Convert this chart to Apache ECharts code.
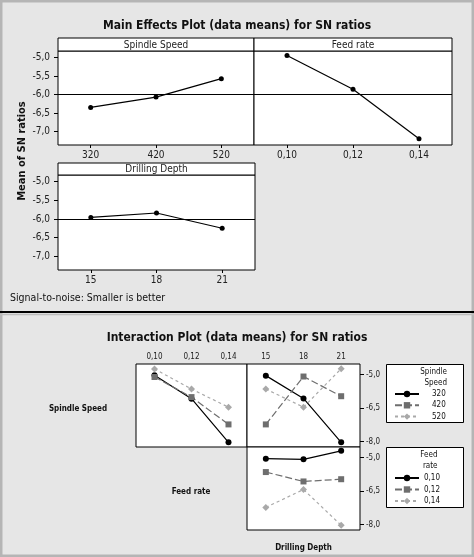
<!DOCTYPE html>
<html lang="en">
<head>
    <meta charset="UTF-8">
    <title>SN ratios</title>
    <script src="https://cdn.jsdelivr.net/npm/echarts@6/dist/echarts.min.js"></script>
    <style>
        html, body { margin: 0; padding: 0; background: #e6e6e6; }
        #container { width: 474px; height: 557px; }
    </style>
</head>
<body>
<div id="container"></div>
<script>
// levels (category labels)
var spindleLevels = ['320', '420', '520'];
var feedLevels = ['0,10', '0,12', '0,14'];
var depthLevels = ['15', '18', '21'];

// main effects means
var meanSpindle = [-6.35, -6.07, -5.57];
var meanFeed = [-4.94, -5.86, -7.20];
var meanDepth = [-5.96, -5.84, -6.25];

// interaction means: spindle speed x feed rate
var sf320 = [-5.03, -6.08, -8.03];
var sf420 = [-5.11, -6.01, -7.23];
var sf520 = [-4.75, -5.65, -6.46];
// spindle speed x drilling depth
var sd320 = [-5.05, -6.07, -8.03];
var sd420 = [-7.23, -5.09, -5.97];
var sd520 = [-5.65, -6.46, -4.74];
// feed rate x drilling depth
var fd010 = [-5.05, -5.08, -4.70];
var fd012 = [-5.65, -6.07, -5.97];
var fd014 = [-7.23, -6.43, -8.03];

var mainTicks = [-7.0, -6.5, -6.0, -5.5, -5.0];
var interTicks = [-8.0, -6.5, -5.0];

var FONT = "'DejaVu Sans Condensed', 'DejaVu Sans'";
function fmt(v) { return v.toFixed(1).replace('.', ','); }
function avg(a) { return a.reduce(function (s, x) { return s + x; }, 0) / a.length; }

var chart = echarts.init(document.getElementById('container'));

var gridStyle = { show: true, backgroundColor: '#fff', borderColor: '#000', borderWidth: 1 };

function mainY(idx, showLabels) {
    return {
        type: 'value', gridIndex: idx, min: -7.37, max: -4.82,
        splitLine: { show: false },
        axisLine: { show: false },
        axisTick: { show: showLabels, length: 4, customValues: mainTicks, lineStyle: { color: '#000' } },
        axisLabel: { show: showLabels, customValues: mainTicks, formatter: fmt, margin: 8,
            fontFamily: FONT, fontSize: 10, color: '#222' }
    };
}
function mainX(idx, cats) {
    return {
        type: 'category', gridIndex: idx, data: cats, boundaryGap: true,
        axisLine: { show: false },
        axisTick: { show: true, alignWithLabel: true, length: 3, lineStyle: { color: '#000' } },
        axisLabel: { margin: 5, fontFamily: FONT, fontSize: 10, color: '#222' }
    };
}
function interY(idx, showLabels) {
    return {
        type: 'value', gridIndex: idx, min: -8.24, max: -4.53, position: 'right',
        splitLine: { show: false },
        axisLine: { show: false },
        axisTick: { show: showLabels, length: 4, customValues: interTicks, lineStyle: { color: '#000' } },
        axisLabel: { show: showLabels, customValues: interTicks, formatter: fmt, margin: 6,
            fontFamily: FONT, fontSize: 8, color: '#222' }
    };
}
function interX(idx, cats, top) {
    return {
        type: 'category', gridIndex: idx, data: cats, boundaryGap: true,
        position: 'top',
        axisLine: { show: false },
        axisTick: { show: false },
        axisLabel: { show: top, margin: 3, fontFamily: FONT, fontSize: 8, color: '#222' }
    };
}
function mainSeries(idx, data) {
    return {
        type: 'line', xAxisIndex: idx, yAxisIndex: idx, data: data,
        symbol: 'circle', symbolSize: 5, silent: true,
        lineStyle: { color: '#000', width: 1.2 }, itemStyle: { color: '#000' },
        markLine: {
            silent: true, symbol: 'none', label: { show: false },
            lineStyle: { color: '#000', width: 1, type: 'solid' },
            data: [{ yAxis: avg(data) }]
        }
    };
}
var styles = [
    { symbol: 'circle', size: 6, color: '#000', dash: 'solid' },
    { symbol: 'rect', size: 6, color: '#6e6e6e', dash: [7, 3] },
    { symbol: 'diamond', size: 7, color: '#a9a9a9', dash: [3, 3] }
];
function interSeries(idx, name, data, k) {
    var st = styles[k];
    return {
        type: 'line', name: name, xAxisIndex: idx, yAxisIndex: idx, data: data,
        symbol: st.symbol, symbolSize: st.size, silent: true,
        lineStyle: { color: st.color, width: 1.2, type: st.dash },
        itemStyle: { color: st.color }
    };
}

function strip(x, y, w, h, text) {
    return {
        type: 'group', children: [
            { type: 'rect', shape: { x: x, y: y, width: w, height: h },
              style: { fill: '#fff', stroke: '#000', lineWidth: 1 } },
            { type: 'text', x: x + w / 2, y: y + h / 2 + 0.5,
              style: { text: text, fill: '#222', font: '10px ' + FONT, align: 'center', verticalAlign: 'middle' } }
        ]
    };
}
function label(x, y, text, size, bold, align) {
    return { type: 'text', x: x, y: y, z: 10,
        style: { text: text, fill: '#111', font: (bold ? 'bold ' : '') + size + 'px ' + FONT,
            align: align || 'center', verticalAlign: 'middle' } };
}

chart.setOption({
    backgroundColor: '#e6e6e6',
    animation: false,
    title: [
        { text: 'Main Effects Plot (data means) for SN ratios', left: 'center', top: 15,
          textStyle: { fontFamily: FONT, fontWeight: 'bold', fontSize: 12, color: '#111' } },
        { text: 'Interaction Plot (data means) for SN ratios', left: 'center', top: 327,
          textStyle: { fontFamily: FONT, fontWeight: 'bold', fontSize: 12, color: '#111' } }
    ],
    grid: [
        Object.assign({ left: 58, top: 51, width: 196, height: 94 }, gridStyle),
        Object.assign({ left: 254, top: 51, width: 198, height: 94 }, gridStyle),
        Object.assign({ left: 58, top: 175, width: 197, height: 95 }, gridStyle),
        Object.assign({ left: 136, top: 364, width: 111, height: 83 }, gridStyle),
        Object.assign({ left: 247, top: 364, width: 113, height: 83 }, gridStyle),
        Object.assign({ left: 247, top: 447, width: 113, height: 83 }, gridStyle)
    ],
    xAxis: [
        mainX(0, spindleLevels),
        mainX(1, feedLevels),
        mainX(2, depthLevels),
        interX(3, feedLevels, true),
        interX(4, depthLevels, true),
        Object.assign(interX(5, depthLevels, false), {
            position: 'bottom', name: 'Drilling Depth', nameLocation: 'middle', nameGap: 14,
            nameTextStyle: { fontFamily: FONT, fontWeight: 'bold', fontSize: 8, color: '#111' }
        })
    ],
    yAxis: [
        mainY(0, true),
        mainY(1, false),
        mainY(2, true),
        interY(3, false),
        interY(4, true),
        interY(5, true)
    ],
    legend: [
        { data: spindleLevels, orient: 'vertical', left: 389, top: 385, itemWidth: 24, itemHeight: 8, itemGap: 3.3,
          selectedMode: false,
          textStyle: { fontFamily: FONT, fontSize: 8, color: '#111', padding: [0, 0, 0, 8] } },
        { data: feedLevels, orient: 'vertical', left: 389, top: 469, itemWidth: 24, itemHeight: 8, itemGap: 3.5,
          selectedMode: false,
          textStyle: { fontFamily: FONT, fontSize: 8, color: '#111' } }
    ],
    graphic: [
        { type: 'rect', shape: { x: 1, y: 1, width: 472, height: 555 }, silent: true, z: -10,
          style: { fill: 'none', stroke: '#b5b5b5', lineWidth: 3 } },
        { type: 'line', shape: { x1: 0, y1: 312, x2: 474, y2: 312 }, silent: true,
          style: { stroke: '#000', lineWidth: 2 } },
        { type: 'line', shape: { x1: 0, y1: 314.5, x2: 474, y2: 314.5 }, silent: true,
          style: { stroke: '#bdbdbd', lineWidth: 1.5 } },
        strip(58, 38, 196, 13, 'Spindle Speed'),
        strip(254, 38, 198, 13, 'Feed rate'),
        strip(58, 163, 197, 12, 'Drilling Depth'),
        { type: 'text', x: 22, y: 151, rotation: Math.PI / 2,
          style: { text: 'Mean of SN ratios', fill: '#111', font: 'bold 11px ' + FONT, align: 'center', verticalAlign: 'middle' } },
        label(10, 298, 'Signal-to-noise: Smaller is better', 10.5, false, 'left'),
        label(78, 409, 'Spindle Speed', 8, true),
        label(191, 492, 'Feed rate', 8, true),
        { type: 'rect', shape: { x: 386.5, y: 364.5, width: 77, height: 58 },
          style: { fill: '#fff', stroke: '#000', lineWidth: 1 }, z: -1 },
        { type: 'rect', shape: { x: 386.5, y: 447.5, width: 77, height: 60 },
          style: { fill: '#fff', stroke: '#000', lineWidth: 1 }, z: -1 },
        label(447, 372, 'Spindle', 8, false, 'right'),
        label(447, 383, 'Speed', 8, false, 'right'),
        label(437.5, 454.5, 'Feed', 8, false, 'right'),
        label(437.5, 466, 'rate', 8, false, 'right')
    ],
    series: [
        mainSeries(0, meanSpindle),
        mainSeries(1, meanFeed),
        mainSeries(2, meanDepth),
        interSeries(3, '320', sf320, 0),
        interSeries(3, '420', sf420, 1),
        interSeries(3, '520', sf520, 2),
        interSeries(4, '320', sd320, 0),
        interSeries(4, '420', sd420, 1),
        interSeries(4, '520', sd520, 2),
        interSeries(5, '0,10', fd010, 0),
        interSeries(5, '0,12', fd012, 1),
        interSeries(5, '0,14', fd014, 2)
    ]
});
</script>
</body>
</html>
